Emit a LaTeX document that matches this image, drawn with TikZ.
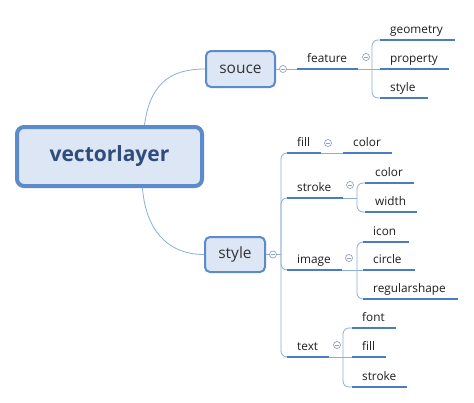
\documentclass[tikz,border=0pt]{standalone}
\usepackage{fontspec}
\setmainfont{Open Sans}
\definecolor{boxfill}{HTML}{DCE6F4}
\definecolor{boxline}{HTML}{5B8BCB}
\definecolor{uline}{HTML}{4A7DC0}
\definecolor{thinc}{HTML}{8CAEDB}
\definecolor{cgray}{HTML}{8FA3C0}
\definecolor{lbl}{HTML}{1E1E1E}
\definecolor{roottext}{HTML}{2F4C7C}
\newcommand\mmleaf[5]{%
  \coordinate (#1-l) at (#2,#4);
  \coordinate (#1-r) at (#3,#4);
  \node[leaf] (#1) at ({#2+10},{#4-7}) {#5};
  \draw[ulinestyle] (#1-l) -- (#1-r);
}
\begin{document}
\begin{tikzpicture}[x=1pt,y=-1pt,
  rootbox/.style={draw=boxline,line width=4pt,fill=boxfill,rounded corners=7pt,
    minimum width=185pt,minimum height=59pt,inner sep=0pt,
    font=\fontsize{21}{24}\selectfont\bfseries,text=roottext},
  topicbox/.style={draw=boxline,line width=2pt,fill=boxfill,rounded corners=5pt,inner sep=0pt,
    font=\fontsize{15.5}{18}\selectfont,text=black!80},
  leaf/.style={anchor=base west,inner sep=0pt,font=\fontsize{11.8}{14}\selectfont,text=lbl},
  ulinestyle/.style={draw=uline,line width=2.8pt},
  conn/.style={draw=thinc,line width=0.8pt},
  fork/.style={conn,rounded corners=6pt},
  collapse/.style={circle,draw=cgray,line width=0.7pt,fill=white,minimum size=7pt,inner sep=0pt,
    path picture={\draw[cgray,line width=0.7pt] ([xshift=-2pt]path picture bounding box.center) -- ([xshift=2pt]path picture bounding box.center);}}
]
\useasboundingbox[fill=white] (0,0) rectangle (474,402);

% main topics
\node[rootbox] (root) at (109.5,156.5) {vectorlayer};
\node[topicbox,minimum width=69pt,minimum height=36pt] (souce) at (240.5,69) {souce};
\node[topicbox,minimum width=60pt,minimum height=35pt] (style) at (235,254.5) {style};

\draw[conn] ([xshift=35pt]root.north) .. controls +(5,-38) and +(-38,0) .. (souce.west);
\draw[conn] ([xshift=33pt]root.south) .. controls +(3,40) and +(-38,0) .. (style.west);

% souce branch
\node[collapse] (c1) at (283,69) {};
\draw[conn] (souce.east) -- (c1.west);
\mmleaf{feature}{297}{358}{69}{feature}
\draw[conn] (c1.east) -- (feature-l);
\node[collapse] (c2) at (366,57) {};
\coordinate (j1) at (372,69);
\draw[conn] (feature-r) -- (j1);
\mmleaf{geometry}{380}{455}{40}{geometry}
\mmleaf{property}{380}{449}{69}{property}
\mmleaf{fstyle}{380}{428}{98}{style}
\draw[fork] (j1) |- (geometry-l);
\draw[conn] (j1) -- (property-l);
\draw[fork] (j1) |- (fstyle-l);

% style branch
\node[collapse] (c3) at (273,254.5) {};
\draw[conn] (style.east) -- (c3.west);
\coordinate (j2) at (281,254.5);
\draw[conn] (c3.east) -- (j2);
\mmleaf{fill}{287}{321}{153}{fill}
\mmleaf{stroke}{287}{343}{198}{stroke}
\mmleaf{image}{287}{342}{270}{image}
\mmleaf{text}{287}{329}{357}{text}
\draw[fork] (j2) |- (fill-l);
\draw[fork] (j2) |- (stroke-l);
\draw[fork] (j2) |- (image-l);
\draw[fork] (j2) |- (text-l);

% fill
\node[collapse] (c4) at (328,143) {};
\mmleaf{fillcolor}{343}{392}{153}{color}
\draw[conn] (fill-r) -- (fillcolor-l);

% stroke
\node[collapse] (c5) at (350,185) {};
\coordinate (j3) at (357,198);
\draw[conn] (stroke-r) -- (j3);
\mmleaf{strokecolor}{365}{414}{183}{color}
\mmleaf{strokewidth}{365}{417}{212}{width}
\draw[fork] (j3) |- (strokecolor-l);
\draw[fork] (j3) |- (strokewidth-l);

% image
\node[collapse] (c6) at (349,258) {};
\coordinate (j4) at (357,270);
\draw[conn] (image-r) -- (j4);
\mmleaf{icon}{363}{409}{242}{icon}
\mmleaf{circle}{363}{415}{270}{circle}
\mmleaf{regularshape}{363}{458}{299}{regularshape}
\draw[fork] (j4) |- (icon-l);
\draw[conn] (j4) -- (circle-l);
\draw[fork] (j4) |- (regularshape-l);

% text
\node[collapse] (c7) at (337,345) {};
\coordinate (j5) at (343,357);
\draw[conn] (text-r) -- (j5);
\mmleaf{font}{352}{396}{328}{font}
\mmleaf{textfill}{352}{386}{357}{fill}
\mmleaf{textstroke}{352}{407}{387}{stroke}
\draw[fork] (j5) |- (font-l);
\draw[conn] (j5) -- (textfill-l);
\draw[fork] (j5) |- (textstroke-l);
\end{tikzpicture}
\end{document}
